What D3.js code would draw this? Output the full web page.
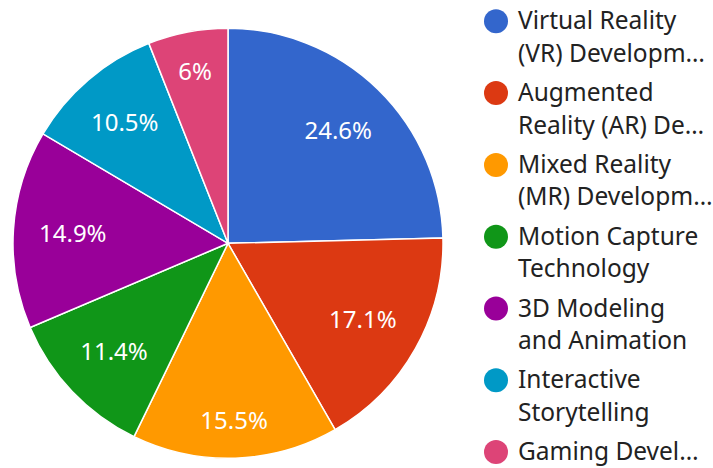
<!DOCTYPE html>
<html>
<head>
    <meta charset="utf-8">
    <title>Pie chart</title>
    <script type="text/javascript" src="https://d3js.org/d3.v7.min.js"></script>
    <style>
        body { margin: 0; background: #fff; }
        svg { display: block; }
        text { font-family: "Noto Sans", sans-serif; }
    </style>
</head>
<body>
<script type="text/javascript">
    var w = 713;
    var h = 468;

    // data
    var categories = [
        "Virtual Reality (VR) Development",
        "Augmented Reality (AR) Development",
        "Mixed Reality (MR) Development",
        "Motion Capture Technology",
        "3D Modeling and Animation",
        "Interactive Storytelling",
        "Gaming Development"
    ];
    var values = [24.6, 17.1, 15.5, 11.4, 14.9, 10.5, 6];
    var colors = ["#3366cc", "#dc3912", "#ff9900", "#109618", "#990099", "#0099c6", "#dd4477"];

    var cx = 228, cy = 243.3, radius = 215;
    var labelSize = 24;

    var svg = d3.select("body").append("svg")
        .attr("width", w)
        .attr("height", h);

    var colorScale = d3.scaleOrdinal().domain(categories).range(colors);

    var data = categories.map(function(c, i) { return { label: c, value: values[i] }; });
    var total = d3.sum(values);

    var pie = d3.pie().sort(null).value(function(d) { return d.value; });
    var arcs = pie(data);

    var arc = d3.arc().innerRadius(0).outerRadius(radius);

    var g = svg.append("g").attr("transform", "translate(" + cx + "," + cy + ")");

    g.selectAll("path")
        .data(arcs)
        .enter()
        .append("path")
        .attr("d", arc)
        .attr("fill", function(d) { return colorScale(d.data.label); })
        .attr("stroke", "#fff")
        .attr("stroke-width", 1.5);

    // percentage labels: the outer edge of each label box sits on a fixed radius
    var outerEdge = radius * 0.884;
    g.selectAll("text.pct")
        .data(arcs)
        .enter()
        .append("text")
        .attr("class", "pct")
        .attr("text-anchor", "middle")
        .attr("dy", "0.36em")
        .attr("fill", "#fff")
        .style("font-size", labelSize + "px")
        .text(function(d) { return +(d.data.value / total * 100).toFixed(1) + "%"; })
        .attr("transform", function(d) {
            var a = (d.startAngle + d.endAngle) / 2;
            var ux = Math.sin(a), uy = -Math.cos(a);
            var hw = this.getComputedTextLength() / 2, hh = labelSize / 2;
            var r = outerEdge - (Math.abs(ux) * hw + Math.abs(uy) * hh);
            return "translate(" + (ux * r) + "," + (uy * r) + ")";
        });

    // legend
    var legX = 496, legTextX = 518, firstBase = 29.3, step = 71.8, lineH = 32.5, maxW = 195;
    var legend = svg.append("g");

    // wraps words into lines, truncating the last line with an ellipsis
    function fitLines(textEl, words, maxLines) {
        var lines = [];
        var cur = "";
        var i = 0;
        function width(s) { textEl.text(s); return textEl.node().getComputedTextLength(); }
        while (i < words.length && lines.length < maxLines) {
            var test = cur ? cur + " " + words[i] : words[i];
            if (width(test) <= maxW || !cur) {
                cur = test; i++;
            } else {
                lines.push(cur); cur = "";
            }
        }
        if (lines.length < maxLines && cur) { lines.push(cur); cur = ""; }
        var rest = words.slice(i).join(" ");
        if (rest && lines.length === maxLines) {
            lines[maxLines - 1] = lines[maxLines - 1] + " " + rest;
        }
        var last = lines[lines.length - 1];
        if (width(last) > maxW) {
            while (last.length > 1 && width(last + "…") > maxW) last = last.slice(0, -1);
            lines[lines.length - 1] = last.replace(/\s+$/, "") + "…";
        }
        textEl.text(null);
        return lines;
    }

    data.forEach(function(d, i) {
        var base = firstBase + i * step;
        var item = legend.append("g");
        item.append("circle")
            .attr("cx", legX)
            .attr("cy", base - 8)
            .attr("r", 12)
            .attr("fill", colorScale(d.label));
        var t = item.append("text")
            .attr("x", legTextX)
            .attr("y", base)
            .attr("fill", "#222")
            .style("font-size", "24.5px");
        var maxLines = (base + lineH < h) ? 2 : 1;
        var lines = fitLines(t, d.label.split(" "), maxLines);
        lines.forEach(function(l, j) {
            t.append("tspan")
                .attr("x", legTextX)
                .attr("y", base + j * lineH)
                .text(l);
        });
    });
</script>
</body>
</html>
